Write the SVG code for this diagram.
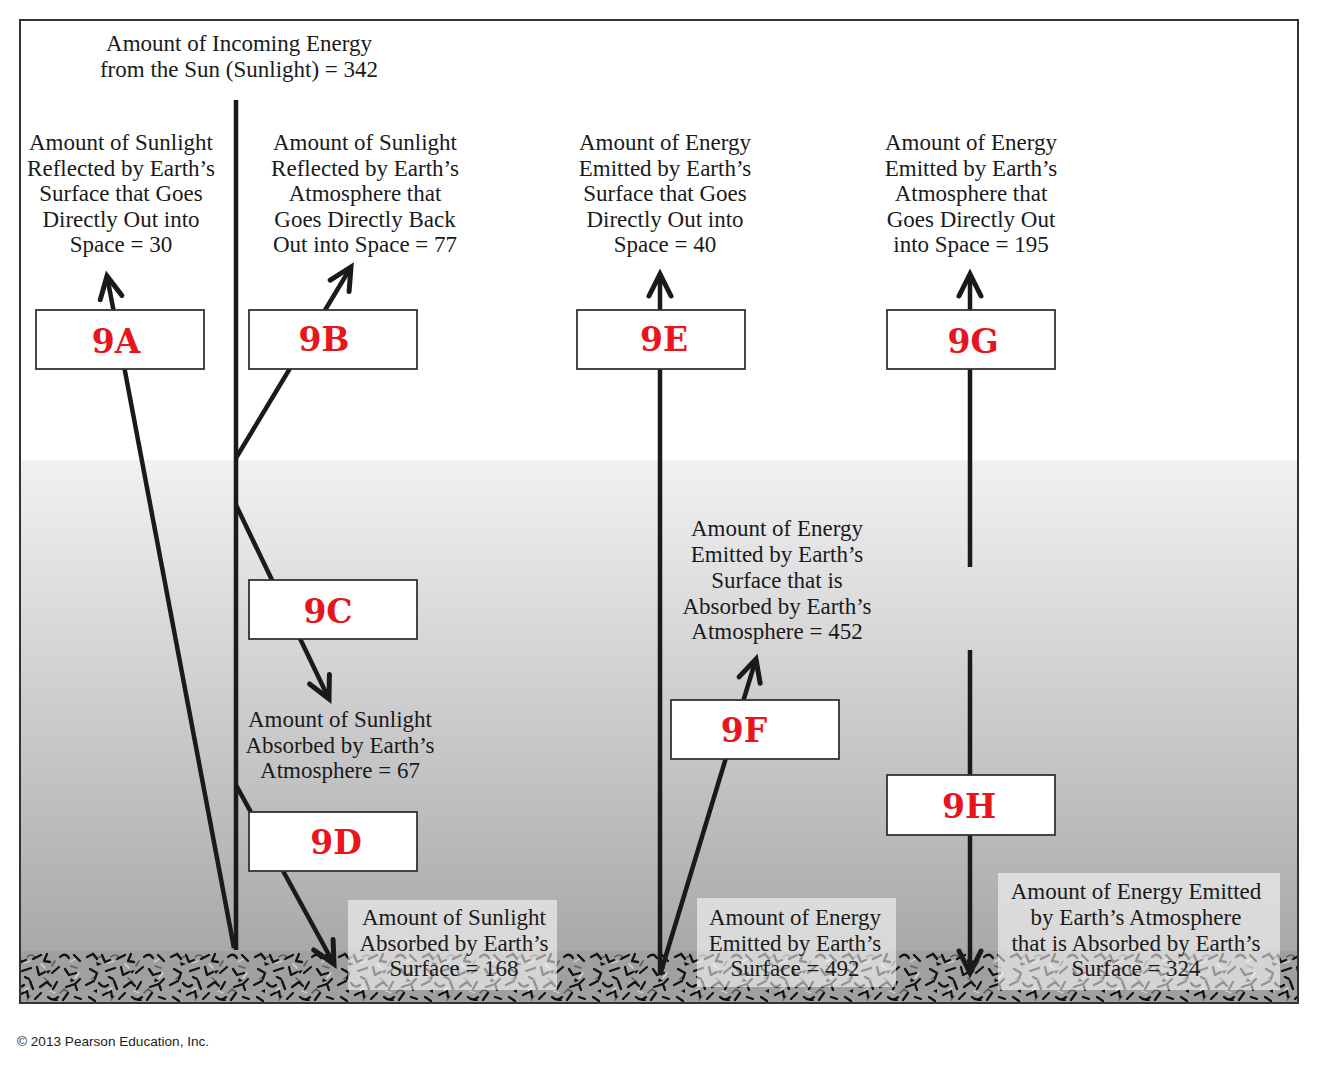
<svg xmlns="http://www.w3.org/2000/svg" width="1318" height="1081" viewBox="0 0 1318 1081">
<defs>
<linearGradient id="sky" x1="0" y1="0" x2="0" y2="1">
<stop offset="0" stop-color="#f1f1f2"/>
<stop offset="1" stop-color="#a9a9ab"/>
</linearGradient>
<pattern id="ground" x="0" y="951" width="84" height="52" patternUnits="userSpaceOnUse">
<rect width="84" height="52" fill="#a0a0a0"/>
<g fill="none" stroke="#5e5e5e" stroke-width="1.6" stroke-linecap="round" stroke-linejoin="round">
<path d="M9 2 l4 5 l5 -2"/>
<path d="M27 6 q4 -4 8 0"/>
<path d="M55 10 l-3 5"/>
<path d="M71 15 l6 2"/>
<path d="M12 25 l-4 3"/>
<path d="M44 27 l5 4"/>
<path d="M60 42 l4 -4 l4 3"/>
<path d="M30 45 l-3 4"/>
</g>
<g fill="none" stroke="#111" stroke-width="2.3" stroke-linecap="round" stroke-linejoin="round">
<path d="M3 6 l6 -3 l4 5"/>
<path d="M18 4 l3 7 l5 -2"/>
<path d="M33 8 l8 -4"/>
<path d="M47 3 l-3 7 l6 1"/>
<path d="M60 6 q5 -5 9 1"/>
<path d="M74 4 l6 6"/>
<path d="M6 18 l7 4 l-2 6"/>
<path d="M22 20 l9 -3"/>
<path d="M37 16 l2 8 l6 -3"/>
<path d="M52 22 l7 -6"/>
<path d="M65 18 l4 6 l7 -2"/>
<path d="M2 34 l8 -4"/>
<path d="M15 32 q4 6 9 2"/>
<path d="M30 30 l3 8"/>
<path d="M40 36 l7 -5 l4 4"/>
<path d="M57 31 l-4 7"/>
<path d="M66 36 l9 -3 l2 6"/>
<path d="M5 46 l6 4"/>
<path d="M19 44 l8 -4 l1 6"/>
<path d="M35 48 l6 -6"/>
<path d="M48 46 q5 5 10 0"/>
<path d="M63 49 l5 -7"/>
<path d="M75 46 l6 2"/>
<path d="M80 28 l-4 4"/>
<path d="M25 26 l4 2"/>
</g>
<g fill="#111">
<path d="M12 11 l6 2 l-5 2 z"/>
<path d="M46 20 l5 -1 l-3 4 z"/>
<path d="M71 27 l4 3 l-5 1 z"/>
<path d="M9 40 l4 -2 l0 4 z"/>
<path d="M53 50 l4 -3 l1 3 z"/>
</g>
<g fill="none" stroke="#d8d8d8" stroke-width="1.3" stroke-linecap="round">
<path d="M24 12 l6 -2"/>
<path d="M41 13 l4 4"/>
<path d="M79 22 l-4 5"/>
<path d="M24 40 l4 -3"/>
<path d="M50 40 l5 2"/>
<path d="M70 11 l5 -3"/>
</g>
</pattern>
<marker id="ah" viewBox="-30 -15 34 30" markerWidth="34" markerHeight="30" refX="0" refY="0" orient="auto" markerUnits="userSpaceOnUse" overflow="visible">
<path d="M-22 -11 L0 0 L-22 11" fill="none" stroke="#1a1a1a" stroke-width="5" stroke-linecap="round" stroke-linejoin="miter"/>
</marker>
<style>
.t{font-family:"Liberation Serif","Times New Roman",serif;font-size:23px;fill:#1a1a1a;text-anchor:middle}
.box{fill:#fff;stroke:#333;stroke-width:1.8}
.lab{font-family:"DejaVu Serif","Liberation Serif",serif;font-weight:bold;font-size:33px;fill:#e8151d;text-anchor:middle}
.ln{stroke:#1a1a1a;stroke-width:4.5;fill:none}
.arr{stroke:#1a1a1a;stroke-width:4.5;fill:none;marker-end:url(#ah)}
.lbg{fill:#ffffff;fill-opacity:0.55}
.cp{font-family:"Liberation Sans",Arial,sans-serif;font-size:13.6px;fill:#222}
</style>
</defs>
<rect width="1318" height="1081" fill="#fff"/>
<g id="background">
<rect x="20" y="460" width="1278" height="491" fill="url(#sky)"/>
<rect x="20" y="951" width="1278" height="52" fill="url(#ground)"/>
<rect x="20" y="20" width="1278" height="983" fill="none" stroke="#333" stroke-width="2"/>
</g>
<g id="surface-labels">
<rect class="lbg" x="348" y="900" width="209" height="90"/>
<rect class="lbg" x="697" y="898" width="199" height="89"/>
<rect class="lbg" x="998" y="873" width="282" height="117"/>
</g>
<g id="connectors">
<line class="ln" x1="236" y1="100" x2="236" y2="950"/>
<line class="arr" x1="234" y1="948" x2="107" y2="276"/>
<line class="arr" x1="236" y1="458" x2="351" y2="267"/>
<line class="arr" x1="236" y1="505" x2="329" y2="699"/>
<line class="arr" x1="236" y1="785" x2="334" y2="964"/>
<line class="arr" x1="660" y1="975" x2="660" y2="274"/>
<line class="arr" x1="660" y1="975" x2="756" y2="659"/>
<line class="arr" x1="970" y1="567" x2="970" y2="274"/>
<line class="arr" x1="970" y1="650" x2="970" y2="973"/>
</g>
<g id="sun-label">
<text class="t" x="239" y="51">Amount of Incoming Energy</text>
<text class="t" x="239" y="77">from the Sun (Sunlight) = 342</text>
</g>
<g id="label-9A">
<text class="t" x="121" y="150">Amount of Sunlight</text>
<text class="t" x="121" y="176">Reflected by Earth’s</text>
<text class="t" x="121" y="201">Surface that Goes</text>
<text class="t" x="121" y="227">Directly Out into</text>
<text class="t" x="121" y="252">Space = 30</text>
</g>
<g id="label-9B">
<text class="t" x="365" y="150">Amount of Sunlight</text>
<text class="t" x="365" y="176">Reflected by Earth’s</text>
<text class="t" x="365" y="201">Atmosphere that</text>
<text class="t" x="365" y="227">Goes Directly Back</text>
<text class="t" x="365" y="252">Out into Space = 77</text>
</g>
<g id="label-9E">
<text class="t" x="665" y="150">Amount of Energy</text>
<text class="t" x="665" y="176">Emitted by Earth’s</text>
<text class="t" x="665" y="201">Surface that Goes</text>
<text class="t" x="665" y="227">Directly Out into</text>
<text class="t" x="665" y="252">Space = 40</text>
</g>
<g id="label-9G">
<text class="t" x="971" y="150">Amount of Energy</text>
<text class="t" x="971" y="176">Emitted by Earth’s</text>
<text class="t" x="971" y="201">Atmosphere that</text>
<text class="t" x="971" y="227">Goes Directly Out</text>
<text class="t" x="971" y="252">into Space = 195</text>
</g>
<g id="label-9C">
<text class="t" x="340" y="727">Amount of Sunlight</text>
<text class="t" x="340" y="753">Absorbed by Earth’s</text>
<text class="t" x="340" y="778">Atmosphere = 67</text>
</g>
<g id="label-9F">
<text class="t" x="777" y="536">Amount of Energy</text>
<text class="t" x="777" y="562">Emitted by Earth’s</text>
<text class="t" x="777" y="588">Surface that is</text>
<text class="t" x="777" y="614">Absorbed by Earth’s</text>
<text class="t" x="777" y="639">Atmosphere = 452</text>
</g>
<g id="label-9D">
<text class="t" x="454" y="925">Amount of Sunlight</text>
<text class="t" x="454" y="951">Absorbed by Earth’s</text>
<text class="t" x="454" y="976">Surface = 168</text>
</g>
<g id="label-surface-emit">
<text class="t" x="795" y="925">Amount of Energy</text>
<text class="t" x="795" y="951">Emitted by Earth’s</text>
<text class="t" x="795" y="976">Surface = 492</text>
</g>
<g id="label-9H">
<text class="t" x="1136" y="899">Amount of Energy Emitted</text>
<text class="t" x="1136" y="925">by Earth’s Atmosphere</text>
<text class="t" x="1136" y="951">that is Absorbed by Earth’s</text>
<text class="t" x="1136" y="976">Surface = 324</text>
</g>
<g id="node-9A"><rect class="box" x="36" y="310" width="168" height="59"/><text class="lab" x="116" y="353">9A</text></g>
<g id="node-9B"><rect class="box" x="249" y="310" width="168" height="59"/><text class="lab" x="324" y="351">9B</text></g>
<g id="node-9E"><rect class="box" x="577" y="310" width="168" height="59"/><text class="lab" x="664" y="351">9E</text></g>
<g id="node-9G"><rect class="box" x="887" y="310" width="168" height="59"/><text class="lab" x="973" y="353">9G</text></g>
<g id="node-9C"><rect class="box" x="249" y="580" width="168" height="59"/><text class="lab" x="328" y="623">9C</text></g>
<g id="node-9D"><rect class="box" x="249" y="812" width="168" height="59"/><text class="lab" x="336" y="854">9D</text></g>
<g id="node-9F"><rect class="box" x="671" y="700" width="168" height="59"/><text class="lab" x="744" y="742">9F</text></g>
<g id="node-9H"><rect class="box" x="887" y="775" width="168" height="60"/><text class="lab" x="969" y="818">9H</text></g>
<text class="cp" x="17" y="1046">© 2013 Pearson Education, Inc.</text>
</svg>
